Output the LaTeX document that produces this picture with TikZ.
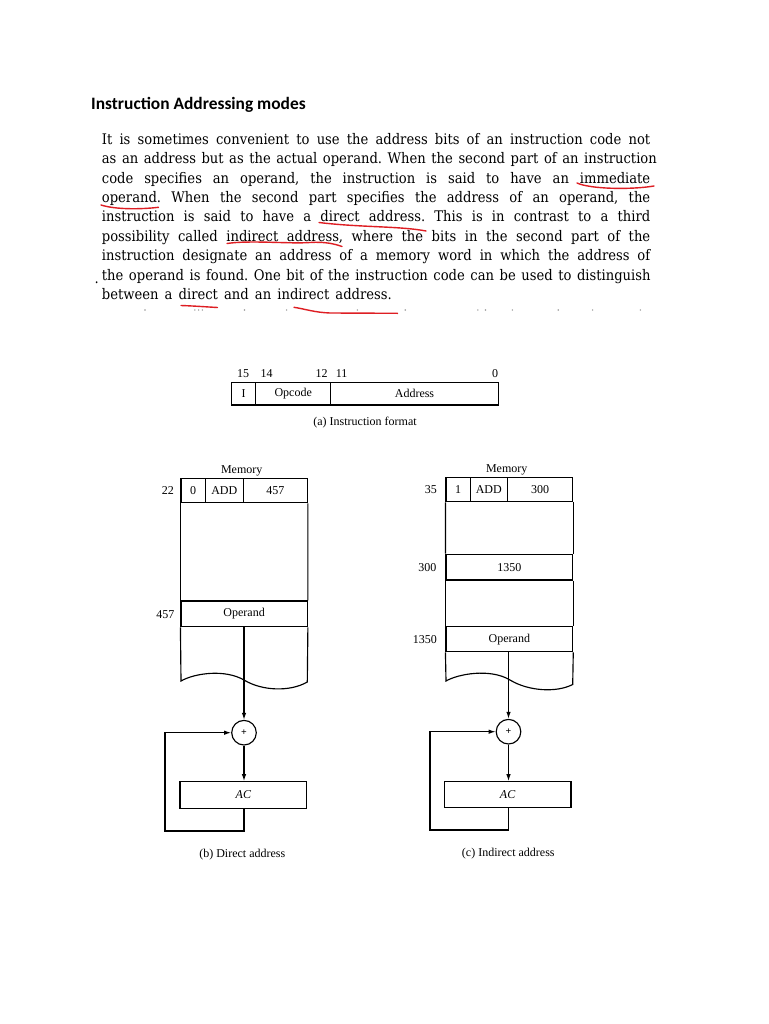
\documentclass[tikz,border=0pt]{standalone}
\usepackage{fontspec}
\setmainfont{Liberation Serif}
\newfontfamily\titlefont{Carlito}
\newfontfamily\parafont{DejaVu Serif Condensed}
\newcommand\myparaspacing{\spaceskip 0.42em plus 0.4em minus 0.04em\relax}
\usetikzlibrary{arrows.meta}
\definecolor{uline}{RGB}{222,30,35}
\begin{document}
\frenchspacing
\begin{tikzpicture}[x=1pt,y=-1pt,
  txt/.style={font=\parafont\fontsize{14.6}{17}\selectfont\myparaspacing, anchor=base west, inner sep=0pt},
  lab/.style={font=\fontsize{12}{14}\selectfont, inner sep=0pt},
  cell/.style={draw, line width=1.15pt, inner sep=0pt, font=\fontsize{12}{14}\selectfont},
  ln/.style={line width=1.15pt},
  arr/.style={line width=1.15pt, -{Latex[length=7pt,width=4.5pt]}},
  redu/.style={draw=uline, line width=1.4pt, line cap=round},
  speck/.style={fill=black!40, circle, inner sep=0pt, minimum size=1.6pt}
]
\useasboundingbox[fill=white] (0,0) rectangle (768,1024);

% ---------- title and paragraph ----------
\node[anchor=base west, inner sep=0pt, font=\titlefont\bfseries\fontsize{17.4}{20}\selectfont] (title) at (91,109.3) {Instruction Addressing modes};

\node[txt] (l1) at (101.7,145)   {\makebox[548.3pt][s]{It is sometimes convenient to use the address bits of an instruction code not}};
\node[txt] (l2) at (101.7,164)   {\makebox[548.3pt][s]{as an address but as the actual operand. When the second part of an instruction}};
\node[txt] (l3) at (101.7,183.3) {\makebox[548.3pt][s]{code specifies an operand, the instruction is said to have an immediate}};
\node[txt] (l4) at (101.7,202.7) {\makebox[548.3pt][s]{operand. When the second part specifies the address of an operand, the}};
\node[txt] (l5) at (101.7,222)   {\makebox[548.3pt][s]{instruction is said to have a direct address. This is in contrast to a third}};
\node[txt] (l6) at (101.7,241.7) {\makebox[548.3pt][s]{possibility called indirect address, where the bits in the second part of the}};
\node[txt] (l7) at (101.7,260.7) {\makebox[548.3pt][s]{instruction designate an address of a memory word in which the address of}};
\node[txt] (l8) at (101.7,280)   {\makebox[548.3pt][s]{the operand is found. One bit of the instruction code can be used to distinguish}};
\node[txt] (l9) at (101.7,299.3) {between a direct and an indirect address.};
\node[txt] (dot) at (94.5,283) {.};

% red hand-drawn underlines
\draw[redu] (577,183) .. controls (590,189) and (630,190) .. (654,186);
\draw[redu] (101,205) .. controls (115,209.5) and (140,209.5) .. (158.5,207.3);
\draw[redu] (319,222.5) .. controls (360,227.5) and (400,226) .. (426,231);
\draw[redu] (227,243.5) .. controls (250,240) and (290,244) .. (310,242.5) .. controls (325,241.5) and (335,244) .. (342,246.5);
\draw[redu] (181,305.5) .. controls (195,306) and (208,307) .. (217.5,307.5);
\draw[redu] (294,307.3) .. controls (305,309) and (315,312.5) .. (330,313) -- (397.5,313.3);

% specks of the next (cut) line
\foreach \sx in {145,194.8,198.6,202.4,244.5,286.6,357.4,405.2,477.9,485.5,512.3,558.2,592.6,640.4}
  \node[speck] at (\sx,310) {};

% ---------- (a) instruction format ----------
\node[cell, minimum width=24pt, minimum height=22.7pt] (fI) at (243.7,393.65) {I};
\node[cell, minimum width=75pt, minimum height=22.7pt] (fOp) at (293.2,393.65) {Opcode};
\node[cell, minimum width=167.6pt, minimum height=22.7pt] (fAd) at (414.5,393.65) {Address};
\node[lab, anchor=base] (n15) at (243,377.5) {15};
\node[lab, anchor=base] (n14) at (266.7,377.5) {14};
\node[lab, anchor=base] (n12) at (321.7,377.5) {12};
\node[lab, anchor=base] (n11) at (341.7,377.5) {11};
\node[lab, anchor=base] (n0) at (495,377.5) {0};
\node[lab, anchor=base] (capa) at (365,425.5) {(a) Instruction format};

% ---------- (b) direct address ----------
\node[lab, anchor=base] (bmem) at (241.7,473) {Memory};
\node[cell, minimum width=24.3pt, minimum height=24.4pt] (bI) at (193.15,490.5) {0};
\node[cell, minimum width=38pt, minimum height=24.4pt] (bOp) at (224.3,490.5) {ADD};
\node[cell, minimum width=64pt, minimum height=24.4pt] (bAd) at (275.3,490.5) {457};
\node[cell, minimum width=126.3pt, minimum height=25.7pt] (bOper) at (244.15,613.85) {Operand};
\node[lab, anchor=base east] (b22) at (174,494.5) {22};
\node[lab, anchor=base east] (b457) at (174.5,618) {457};
\coordinate (bwl) at (181,681);
\coordinate (bwr) at (307.3,682);
\draw[ln] (bI.south west) -- (bOper.north west);
\draw[ln] (bAd.south east) -- (bOper.north east);
\draw[ln] (bOper.south west) -- (bwl)
  .. controls (195,673) and (225,669) .. (244,680)
  .. controls (262,691) and (290,692) .. (bwr) -- (bOper.south east);
\node[draw, circle, line width=1.15pt, minimum size=24.6pt, inner sep=0pt, font=\bfseries\fontsize{10}{10}\selectfont] (bsum) at (244,732.7) {+};
\node[cell, minimum width=126.7pt, minimum height=26.6pt, font=\itshape\fontsize{12}{14}\selectfont] (bac) at (243.35,795) {AC};
\coordinate (bl) at (165,831);
\draw[arr] (bsum.north |- bOper.south) -- (bsum.north);
\draw[arr] (bsum.south) -- (bsum.south |- bac.north);
\draw[arr] (bsum.south |- bac.south) |- (bl) |- (bsum.west);
\node[lab, anchor=base] (capb) at (242.3,857) {(b) Direct address};

% ---------- (c) indirect address ----------
\node[lab, anchor=base] (cmem) at (506.7,472.5) {Memory};
\node[cell, minimum width=24.3pt, minimum height=24.4pt] (cI) at (458.15,489.5) {1};
\node[cell, minimum width=37pt, minimum height=24.4pt] (cOp) at (488.8,489.5) {ADD};
\node[cell, minimum width=65.4pt, minimum height=24.4pt] (cAd) at (540,489.5) {300};
\node[cell, minimum width=126.7pt, minimum height=25.7pt] (c300) at (509.35,567.15) {1350};
\node[cell, minimum width=126.7pt, minimum height=25pt] (cOper) at (509.35,639.2) {Operand};
\node[lab, anchor=base east] (c35) at (437,493.5) {35};
\node[lab, anchor=base east] (c300l) at (436.5,571.5) {300};
\node[lab, anchor=base east] (c1350l) at (437,643) {1350};
\coordinate (cwl) at (446,681);
\coordinate (cwr) at (572.7,684.5);
\draw[ln] (cI.south west) -- (c300.north west);
\draw[ln] (cAd.south east) -- (c300.north east);
\draw[ln] (c300.south west) -- (cOper.north west);
\draw[ln] (c300.south east) -- (cOper.north east);
\draw[ln] (cOper.south west) -- (cwl)
  .. controls (458,674) and (490,668) .. (510,680)
  .. controls (528,691) and (556,693) .. (cwr) -- (cOper.south east);
\node[draw, circle, line width=1.15pt, minimum size=24.6pt, inner sep=0pt, font=\bfseries\fontsize{10}{10}\selectfont] (csum) at (508.5,731.7) {+};
\node[cell, minimum width=126.7pt, minimum height=25.6pt, font=\itshape\fontsize{12}{14}\selectfont] (cac) at (507.65,794.5) {AC};
\coordinate (cl) at (430,830);
\draw[arr] (csum.north |- cOper.south) -- (csum.north);
\draw[arr] (csum.south) -- (csum.south |- cac.north);
\draw[arr] (csum.south |- cac.south) |- (cl) |- (csum.west);
\node[lab, anchor=base] (capc) at (508.3,856.5) {(c) Indirect address};
\end{tikzpicture}
\end{document}
